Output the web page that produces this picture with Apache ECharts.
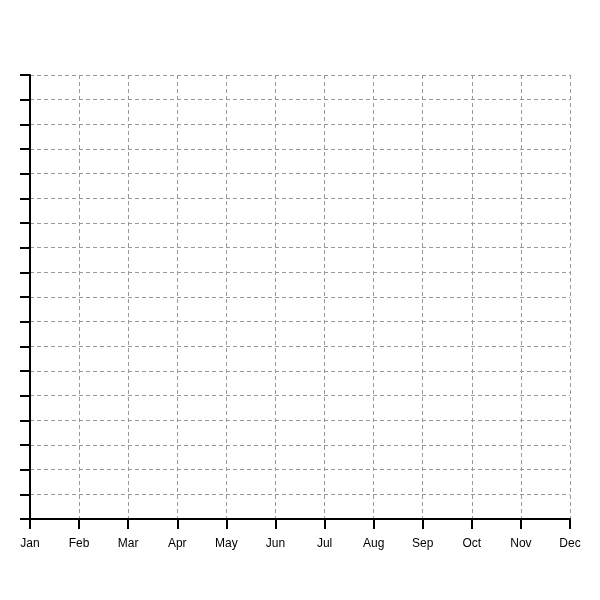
<!DOCTYPE html>
<html><head><meta charset="utf-8">
<script src="https://cdn.jsdelivr.net/npm/echarts@6/dist/echarts.min.js"></script>
<style>html,body{margin:0;padding:0;background:#fff}#c{width:600px;height:600px}</style>
</head><body><div id="c"></div>
<script>
const categories = ['Jan','Feb','Mar','Apr','May','Jun','Jul','Aug','Sep','Oct','Nov','Dec'];
const yMin = 0, yMax = 18, yInterval = 1;
const seriesValues = [];
const chart = echarts.init(document.getElementById('c'), null, {renderer:'canvas'});
chart.setOption({
  animation: false,
  backgroundColor: '#fff',
  grid: {left: 30, right: 30, top: 75, bottom: 81, containLabel: false},
  xAxis: {
    type: 'category', data: categories, boundaryGap: false,
    axisLine: {lineStyle: {color: '#000', width: 2}},
    axisTick: {show: true, length: 10, lineStyle: {color: '#000', width: 2}},
    axisLabel: {color: '#000', fontSize: 12, fontFamily: 'Liberation Sans, Arial, sans-serif', margin: 19, interval: 0},
    splitLine: {show: true, lineStyle: {color: '#999', type: [4, 3], width: 1}}
  },
  yAxis: {
    type: 'value', min: yMin, max: yMax, interval: yInterval,
    axisLine: {show: true, lineStyle: {color: '#000', width: 2}},
    axisTick: {show: true, length: 10, lineStyle: {color: '#000', width: 2}},
    axisLabel: {show: false},
    splitLine: {show: true, lineStyle: {color: '#999', type: [4, 3], width: 1}}
  },
  series: [{type: 'line', data: seriesValues}]
});
</script></body></html>
